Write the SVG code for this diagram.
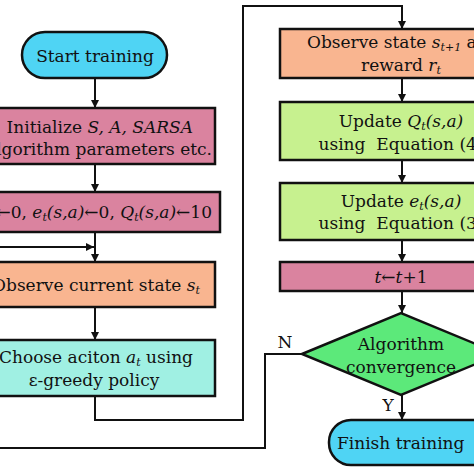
<svg xmlns="http://www.w3.org/2000/svg" width="474" height="474" viewBox="0 0 474 474">
<style>
text{font-family:"DejaVu Serif","Liberation Serif",serif;font-size:17px;fill:#111}
.i{font-style:italic}
.sub{font-size:11px;font-style:italic}
.box{stroke:#111;stroke-width:2.5}
.term{fill:#4FD4F4}
.pink{fill:#DA839F}
.orange{fill:#F9B590}
.teal{fill:#A0F0E3}
.green{fill:#C7F18F}
.dia{fill:#5CE97A}
.c{fill:none;stroke:#111;stroke-width:2}
.m{text-anchor:middle}
.e{text-anchor:end}
</style>
<defs>
<marker id="ah" viewBox="0 0 10 10" refX="10" refY="5" markerWidth="8" markerHeight="8" markerUnits="userSpaceOnUse" orient="auto">
<path d="M0,0 L10,5 L0,10 z" fill="#111"/>
</marker>
</defs>
<g id="connectors">
<path class="c" d="M95,78 V108" marker-end="url(#ah)"/>
<path class="c" d="M95,164 V192" marker-end="url(#ah)"/>
<path class="c" d="M95,232 V262" marker-end="url(#ah)"/>
<path class="c" d="M95,307 V340" marker-end="url(#ah)"/>
<path class="c" d="M95,396 V420 H243 V6 H402 V29" marker-end="url(#ah)"/>
<path class="c" d="M402,78 V102" marker-end="url(#ah)"/>
<path class="c" d="M402,160 V183" marker-end="url(#ah)"/>
<path class="c" d="M402,240 V262" marker-end="url(#ah)"/>
<path class="c" d="M402,291 V313" marker-end="url(#ah)"/>
<path class="c" d="M402,395 V420" marker-end="url(#ah)"/>
<path class="c" d="M302,354 H265 V448 H-10 V247 H94" marker-end="url(#ah)"/>
<text x="285" y="348" class="m">N</text>
<text x="388" y="411" class="m">Y</text>
</g>
<g id="start">
<rect class="box term" x="22" y="32" width="145" height="46" rx="23"/>
<text x="95" y="62" class="m">Start training</text>
</g>
<g id="init">
<rect class="box pink" x="-25" y="108" width="240" height="56"/>
<text x="193" y="133" class="e">Initialize <tspan class="i">S, A, SARSA</tspan></text>
<text x="212" y="155" class="e">algorithm parameters etc.</text>
</g>
<g id="init2">
<rect class="box pink" x="-25" y="192" width="245" height="40"/>
<text x="212" y="218" class="e"><tspan class="i">t</tspan>←0, <tspan class="i">e</tspan><tspan class="sub" dy="3">t</tspan><tspan class="i" dy="-3">(s,a)</tspan>←0, <tspan class="i">Q</tspan><tspan class="sub" dy="3">t</tspan><tspan class="i" dy="-3">(s,a)</tspan>←10</text>
</g>
<g id="observe">
<rect class="box orange" x="-25" y="262" width="240" height="45"/>
<text x="200" y="291" class="e">Observe current state <tspan class="i">s</tspan><tspan class="sub" dy="3">t</tspan></text>
</g>
<g id="choose">
<rect class="box teal" x="-25" y="340" width="240" height="56"/>
<text x="193" y="363" class="e">Choose aciton <tspan class="i">a</tspan><tspan class="sub" dy="3">t</tspan><tspan dy="-3"> using</tspan></text>
<text x="94" y="386" class="m">ε-greedy policy</text>
</g>
<g id="observe2">
<rect class="box orange" x="280" y="29" width="250" height="49"/>
<text x="307" y="48">Observe state <tspan class="i">s</tspan><tspan class="sub" dy="3">t+1</tspan><tspan dy="-3"> and</tspan></text>
<text x="401" y="71" class="m">reward <tspan class="i">r</tspan><tspan class="sub" dy="3">t</tspan></text>
</g>
<g id="updateQ">
<rect class="box green" x="280" y="102" width="250" height="58"/>
<text x="401" y="127" class="m">Update <tspan class="i">Q</tspan><tspan class="sub" dy="3">t</tspan><tspan class="i" dy="-3">(s,a)</tspan></text>
<text x="401" y="150" class="m" xml:space="preserve">using  Equation (4)</text>
</g>
<g id="updateE">
<rect class="box green" x="280" y="183" width="250" height="57"/>
<text x="401" y="207" class="m">Update <tspan class="i">e</tspan><tspan class="sub" dy="3">t</tspan><tspan class="i" dy="-3">(s,a)</tspan></text>
<text x="401" y="229" class="m" xml:space="preserve">using  Equation (3)</text>
</g>
<g id="increment">
<rect class="box pink" x="280" y="262" width="250" height="29"/>
<text x="401" y="283" class="m"><tspan class="i">t</tspan>←<tspan class="i">t</tspan>+1</text>
</g>
<g id="convergence">
<path class="box dia" d="M302,354 L401,313 L500,354 L401,395 Z"/>
<text x="401" y="350" class="m">Algorithm</text>
<text x="401" y="373" class="m">convergence</text>
</g>
<g id="finish">
<rect class="box term" x="329" y="420" width="200" height="45" rx="22"/>
<text x="337" y="449">Finish training</text>
</g>
</svg>
